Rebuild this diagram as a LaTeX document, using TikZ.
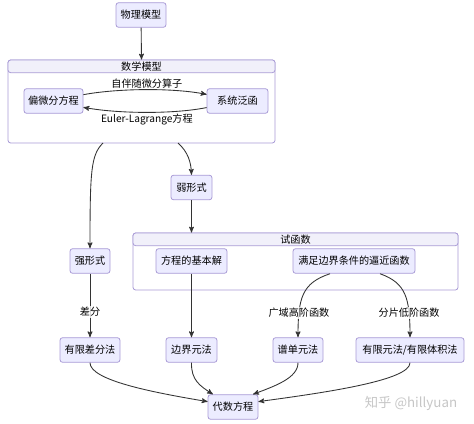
\documentclass[tikz,border=0pt]{standalone}
\usepackage{fontspec}
\setmainfont{Noto Sans CJK SC}
\usetikzlibrary{arrows}
\definecolor{nodefill}{HTML}{ECECFF}
\definecolor{nodeline}{HTML}{A99BD6}
\definecolor{headfill}{HTML}{F1F0FA}
\definecolor{wirecol}{HTML}{333333}

\begin{document}
\begin{tikzpicture}[x=0.75pt,y=-0.75pt,
>=stealth',
font=\fontsize{7.6}{9}\selectfont,
box/.style={draw=nodeline, fill=nodefill, rounded corners=2pt, line width=0.6pt, minimum height=18.5pt, minimum width=#1, inner sep=1pt},
group/.style={draw=nodeline, fill=white, rounded corners=2pt, line width=0.6pt, inner sep=0pt},
head/.style={draw=nodeline, fill=headfill, rounded corners=2pt, line width=0.6pt, inner sep=0pt, minimum height=9.5pt},
wire/.style={->, draw=wirecol, line width=0.65pt},
lbl/.style={fill=white, fill opacity=0.8, text opacity=1, inner sep=1pt}]%styles for boxes, subgraphs and arrows
\useasboundingbox (0,0) rectangle (474,424);
% subgraphs
\node[group, minimum width=200.25pt, minimum height=62.25pt] (math) at (141.5,101.5) {};
\node[head, minimum width=200.25pt, anchor=north] (mathhead) at (math.north) {数学模型};
\node[group, minimum width=243.75pt, minimum height=42.75pt] (trial) at (295.5,261.5) {};
\node[head, minimum width=243.75pt, anchor=north] (trialhead) at (trial.north) {试函数};
% nodes
\node[box=37.5pt] (phys) at (141,15) {物理模型};
\node[box=44.25pt] (pde) at (53.5,101) {偏微分方程};
\node[box=45.75pt] (func) at (237.5,101) {系统泛函};
\node[box=30.75pt] (weak) at (191.5,187.5) {弱形式};
\node[box=30pt] (strong) at (90,261) {强形式};
\node[box=53.25pt] (fund) at (191.5,261) {方程的基本解};
\node[box=91.5pt] (approx) at (354,261) {满足边界条件的逼近函数};
\node[box=45pt] (fdm) at (90,350) {有限差分法};
\node[box=38.25pt] (bem) at (191.5,350) {边界元法};
\node[box=37.5pt] (sem) at (298,350) {谱单元法};
\node[box=81pt] (fem) at (410,350) {有限元法/有限体积法};
\node[box=37.5pt] (alg) at (233,407) {代数方程};
\node[text=gray!45, font=\fontsize{10}{12}\selectfont] (mark) at (411,403) {知乎 @hillyuan};
\coordinate (mS1) at (103,143);
\coordinate (mS2) at (178,143);
% arrows
\draw[wire] (phys) -- (math.north);
\draw[wire] (pde.12) .. controls (120,88) and (175,88) .. (func.168) node[midway, above=-2.5pt] {自伴随微分算子};
\draw[wire] (func.192) .. controls (175,114) and (120,114) .. (pde.-12) node[midway, below=-2.5pt] {Euler-Lagrange方程};
\draw[wire] (mS1) .. controls (91,155) and (90,170) .. (strong.north);
\draw[wire] (mS2) .. controls (188,152) and (191,162) .. (weak.north);
\draw[wire] (weak.south) -- (weak.south |- trial.north);
\draw[wire] (strong) -- (fdm) node[lbl, pos=0.6] {差分};
\draw[wire] (fund) -- (bem);
\draw[wire] ([xshift=-18pt]approx.south) .. controls (302,283) and (298,298) .. (sem.north) node[lbl, pos=0.76] {广域高阶函数};
\draw[wire] ([xshift=19.5pt]approx.south) .. controls (406,283) and (410,298) .. (fem.north) node[lbl, pos=0.76] {分片低阶函数};
\draw[wire] (fdm.south) .. controls (90,380) and (150,392) .. (alg.168);
\draw[wire] (bem.south) .. controls (191,380) and (200,386) .. ([xshift=4pt]alg.north west);
\draw[wire] (sem.south) .. controls (298,378) and (275,386) .. ([xshift=-4pt]alg.north east);
\draw[wire] (fem.south) .. controls (410,380) and (330,392) .. (alg.12);
\end{tikzpicture}
\end{document}
